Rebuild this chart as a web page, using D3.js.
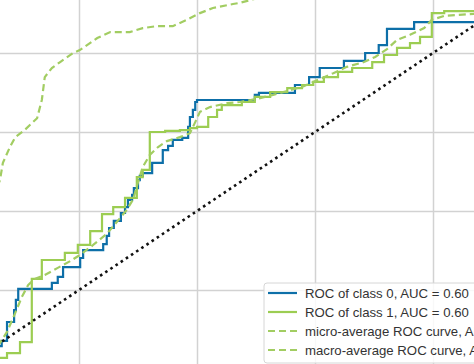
<!DOCTYPE html>
<html><head><meta charset="utf-8">
<script src="https://cdn.jsdelivr.net/npm/d3@7"></script>
<style>html,body{margin:0;padding:0;background:#fff;overflow:hidden}svg{display:block}</style>
</head><body>
<script>
// ---- data (false positive rate / true positive rate) ----
const gridTicks = [0, 0.2, 0.4, 0.6, 0.8, 1.0];

const class0Fpr = [0,0.02,0.02,0.04,0.04,0.06,0.06,0.069,0.069,0.078,0.078,0.090,0.090,0.093,0.093,0.097,0.097,0.154,0.154,0.164,0.164,0.173,0.173,0.202,0.202,0.207,0.207,0.241,0.241,0.247,0.247,0.251,0.251,0.259,0.259,0.271,0.271,0.278,0.278,0.283,0.283,0.290,0.290,0.293,0.293,0.300,0.300,0.303,0.303,0.308,0.308,0.324,0.324,0.342,0.342,0.351,0.351,0.359,0.359,0.375,0.375,0.385,0.385,0.388,0.388,0.393,0.393,0.397,0.397,0.400,0.400,0.498,0.498,0.505,0.505,0.566,0.566,0.590,0.590,0.608,0.608,0.649,0.649,0.685,0.685,0.708,0.708,0.722,0.722,0.768,0.768,0.93,0.93,0.97,0.97,1];
const class0Tpr = [0,0,0.02,0.02,0.045,0.045,0.058,0.058,0.071,0.071,0.119,0.119,0.149,0.149,0.175,0.175,0.203,0.203,0.218,0.218,0.233,0.233,0.258,0.258,0.281,0.281,0.301,0.301,0.316,0.316,0.337,0.337,0.357,0.357,0.375,0.375,0.395,0.395,0.410,0.410,0.428,0.428,0.441,0.441,0.458,0.458,0.478,0.478,0.489,0.489,0.496,0.496,0.522,0.522,0.554,0.554,0.565,0.565,0.580,0.580,0.585,0.585,0.613,0.613,0.638,0.638,0.656,0.656,0.676,0.676,0.681,0.681,0.694,0.694,0.699,0.699,0.719,0.719,0.739,0.739,0.762,0.762,0.780,0.780,0.800,0.800,0.820,0.820,0.861,0.861,0.878,0.878,0.94,0.94,1,1];

const class1Fpr = [0,0.03,0.03,0.05,0.05,0.06,0.06,0.078,0.078,0.100,0.100,0.120,0.120,0.137,0.137,0.176,0.176,0.198,0.198,0.219,0.219,0.239,0.239,0.258,0.258,0.278,0.278,0.298,0.298,0.308,0.308,0.320,0.320,0.346,0.346,0.371,0.371,0.388,0.388,0.400,0.400,0.419,0.419,0.434,0.434,0.442,0.442,0.476,0.476,0.498,0.498,0.524,0.524,0.553,0.553,0.578,0.578,0.597,0.597,0.615,0.615,0.639,0.639,0.663,0.663,0.697,0.697,0.717,0.717,0.739,0.739,0.761,0.761,0.778,0.778,0.798,0.798,0.819,0.819,0.95,0.95,1,1];
const class1Tpr = [0,0,0.01,0.01,0.02,0.02,0.028,0.028,0.040,0.040,0.068,0.068,0.228,0.228,0.276,0.276,0.294,0.294,0.314,0.314,0.349,0.349,0.392,0.392,0.410,0.410,0.433,0.433,0.486,0.486,0.504,0.504,0.600,0.600,0.603,0.603,0.605,0.605,0.610,0.610,0.613,0.613,0.638,0.638,0.656,0.656,0.668,0.668,0.676,0.676,0.689,0.689,0.701,0.701,0.711,0.711,0.719,0.719,0.727,0.727,0.739,0.739,0.752,0.752,0.762,0.762,0.777,0.777,0.795,0.795,0.813,0.813,0.825,0.825,0.841,0.841,0.901,0.901,0.906,0.906,0.96,0.96,1];

const microFpr = [0,0.01,0.03,0.05,0.066,0.071,0.083,0.092,0.108,0.129,0.137,0.142,0.154,0.168,0.190,0.202,0.231,0.253,0.286,0.308,0.332,0.359,0.383,0.405,0.427,0.461,0.473,0.490,0.524,0.6,0.8,1];
const microTpr = [0,0.2,0.33,0.42,0.478,0.522,0.562,0.587,0.605,0.635,0.681,0.739,0.762,0.777,0.800,0.808,0.838,0.853,0.853,0.863,0.868,0.868,0.884,0.901,0.914,0.924,0.927,0.934,0.947,0.96,0.985,1];

const macroFpr = [0,0.032,0.066,0.078,0.092,0.103,0.114,0.125,0.142,0.164,0.185,0.202,0.224,0.247,0.264,0.281,0.292,0.298,0.308,0.320,0.334,0.349,0.371,0.388,0.397,0.405,0.422,0.451,0.473,0.502,0.529,0.558,0.581,0.608,0.631,0.654,0.683,0.702,0.722,0.739,0.761,0.785,0.798,0.819,0.869,0.95,1];
const macroTpr = [0,0.018,0.066,0.094,0.142,0.182,0.213,0.228,0.238,0.256,0.273,0.289,0.314,0.342,0.372,0.403,0.430,0.463,0.511,0.542,0.562,0.577,0.587,0.597,0.625,0.651,0.663,0.673,0.676,0.684,0.694,0.706,0.716,0.734,0.749,0.765,0.777,0.790,0.810,0.833,0.846,0.863,0.884,0.894,0.899,0.93,1];

const chanceLine = [0, 1];

const legendLabels = [
  "ROC of class 0, AUC = 0.60",
  "ROC of class 1, AUC = 0.60",
  "micro-average ROC curve, AUC = 0.87",
  "macro-average ROC curve, AUC = 0.60"
];

// ---- drawing ----
const W = 474, H = 364;
const svg = d3.select("body").append("svg").attr("width", W).attr("height", H);

const x = d3.scaleLinear().domain([0, 1]).range([-39, 551]);
const y = d3.scaleLinear().domain([0, 1]).range([369, -26]);

// grid
const gx = svg.append("g").attr("transform", `translate(0,${H})`)
  .call(d3.axisBottom(x).tickValues(gridTicks).tickSize(-H).tickFormat(""));
const gy = svg.append("g")
  .call(d3.axisLeft(y).tickValues(gridTicks).tickSize(-W).tickFormat(""));
[gx, gy].forEach(g => {
  g.select(".domain").remove();
  g.selectAll(".tick line").attr("stroke", "#d2d2d2").attr("stroke-width", 1.5);
});

const line = d3.line().x(d => x(d[0])).y(d => y(d[1]));
const zip = (a, b) => a.map((v, i) => [v, b[i]]);

const series = [
  {fpr: class0Fpr, tpr: class0Tpr, color: "#0d6fa8", dash: null},
  {fpr: class1Fpr, tpr: class1Tpr, color: "#9ccd52", dash: null},
  {fpr: microFpr, tpr: microTpr, color: "#a2cd62", dash: "7,4"},
  {fpr: macroFpr, tpr: macroTpr, color: "#a2cd62", dash: "7,4"}
];

series.forEach(s => {
  svg.append("path")
    .attr("d", line(zip(s.fpr, s.tpr)))
    .attr("fill", "none")
    .attr("stroke", s.color)
    .attr("stroke-width", 2.2)
    .attr("stroke-linejoin", "miter")
    .attr("stroke-dasharray", s.dash);
});

// chance diagonal
svg.append("path")
  .attr("d", line(zip(chanceLine, chanceLine)))
  .attr("fill", "none")
  .attr("stroke", "#111")
  .attr("stroke-width", 2.6)
  .attr("stroke-dasharray", "2.6,3.6");

// legend
const lg = svg.append("g").attr("transform", "translate(264,283)");
lg.append("rect")
  .attr("x", 0).attr("y", 0).attr("width", 240).attr("height", 80)
  .attr("rx", 3)
  .attr("fill", "#fff").attr("fill-opacity", 0.85)
  .attr("stroke", "#d6d6d6").attr("stroke-width", 1);

series.forEach((s, i) => {
  const cy = 10 + i * 19;
  lg.append("line")
    .attr("x1", 4).attr("x2", 33).attr("y1", cy).attr("y2", cy)
    .attr("stroke", s.color).attr("stroke-width", 2.2)
    .attr("stroke-dasharray", s.dash);
  lg.append("text")
    .attr("x", 41).attr("y", cy).attr("dy", "0.36em")
    .attr("font-family", "Liberation Sans, Arial, sans-serif")
    .attr("font-size", 13.2)
    .attr("fill", "#333")
    .text(legendLabels[i]);
});
</script>
</body></html>
